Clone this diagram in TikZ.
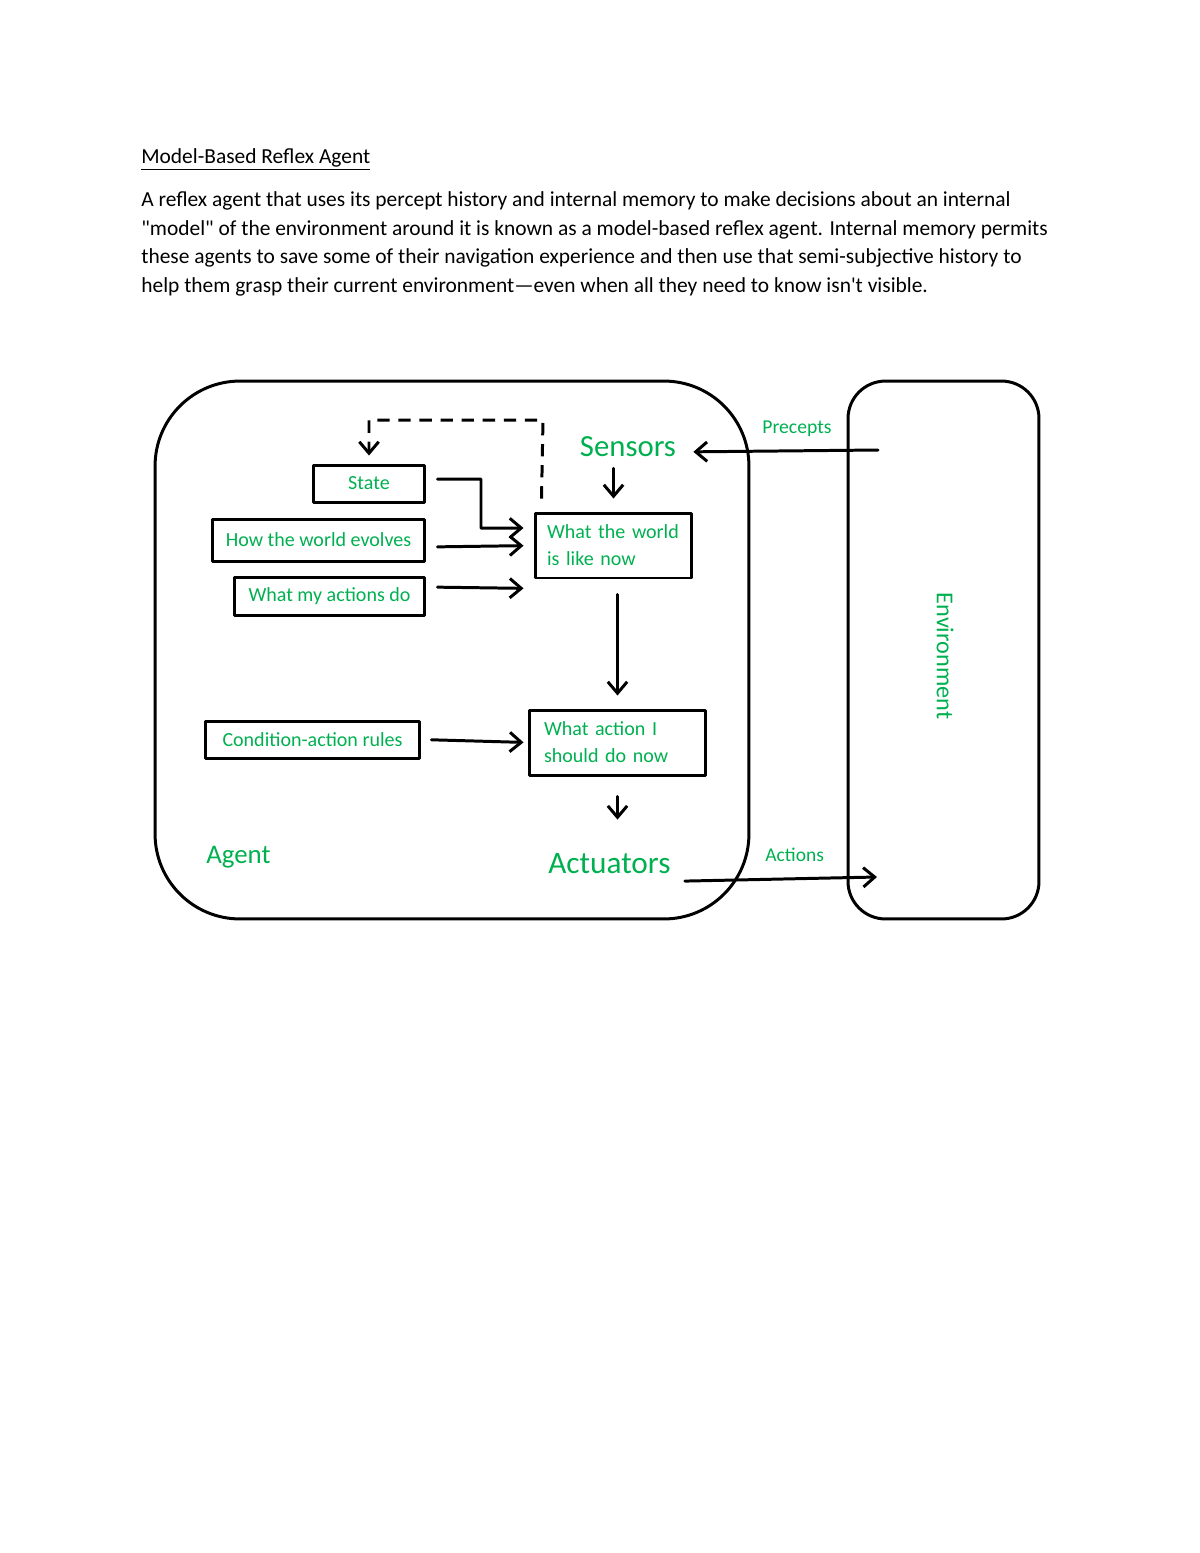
\documentclass[tikz,border=0pt]{standalone}
\usepackage{fontspec}
\setmainfont{Carlito}[Ligatures=TeXOff]
\usetikzlibrary{arrows.meta}
\definecolor{txtgreen}{RGB}{0,176,80}
\tikzset{
  frame/.style={draw,line width=1.7pt},
  box/.style={draw,line width=1.7pt,inner sep=0pt,text=txtgreen,font=\fontsize{11.4}{15.3}\selectfont},
  lbl/.style={text=txtgreen,inner sep=0pt},
  para/.style={anchor=base west,inner sep=0pt,font=\fontsize{12.2}{15}\selectfont},
  arr/.style={->,line width=1.7pt},
}
\begin{document}
\begin{tikzpicture}[x=0.02cm,y=-0.02cm,>={Straight Barb[length=6.5pt,width=11pt]},line join=round,line cap=round]
\useasboundingbox (0,0) rectangle (1200,1553);
\path
(543,420) coordinate (fb)
(481,479) coordinate (bend)
(878,450) coordinate (pin)
(877,877) coordinate (aout);
\node[para] (title) at (141,163) {\underline{Model-Based Reflex Agent}};
\node[para] (line1) at (141,206) {A reflex agent that uses its percept history and internal memory to make decisions about an internal};
\node[para] (line2) at (141,235) {"model" of the environment around it is known as a model-based reflex agent. Internal memory permits};
\node[para] (line3) at (141,263) {these agents to save some of their navigation experience and then use that semi-subjective history to};
\node[para] (line4) at (141,292) {help them grasp their current environment—even when all they need to know isn't visible.};
\node[frame,minimum width=11.88cm,minimum height=10.76cm,rounded corners=1.7cm] (agent) at (452,650) {};
\node[frame,minimum width=3.82cm,minimum height=10.76cm,rounded corners=0.75cm] (env) at (943.5,650) {};
\node[box,minimum width=2.24cm,minimum height=0.74cm] (state) at (369,483.5) {State};
\node[box,minimum width=4.26cm,minimum height=0.84cm] (evolves) at (318.5,540) {How the world evolves};
\node[box,minimum width=3.82cm,minimum height=0.76cm] (actdo) at (329.5,596) {What my actions do};
\node[box,minimum width=4.3cm,minimum height=0.74cm] (rules) at (312.5,739.5) {Condition-action rules};
\node[box,minimum width=3.14cm,minimum height=1.3cm,inner xsep=0.24cm,text width=2.66cm,align=left] (worldnow) at (613.5,545.5) {What~the~world\\is like now};
\node[box,minimum width=3.54cm,minimum height=1.3cm,inner xsep=0.3cm,text width=2.94cm,align=left] (actnow) at (617.5,742.5) {What action I\\should do now};
\node[lbl,font=\fontsize{17.5}{20}\selectfont] (sensors) at (628,447) {Sensors};
\node[lbl,anchor=base west,font=\fontsize{17.8}{20}\selectfont] (actuators) at (548,873) {Actuators};
\node[lbl,anchor=base west,font=\fontsize{15.3}{18}\selectfont] (agentlbl) at (206,863) {Agent};
\node[lbl,anchor=base west,font=\fontsize{11.2}{13}\selectfont] (precepts) at (762,433) {Precepts};
\node[lbl,anchor=base west,font=\fontsize{11.1}{13}\selectfont] (actions) at (765,861) {Actions};
\node[lbl,rotate=-90,font=\fontsize{13.8}{16}\selectfont] (envlbl) at (945,656) {Environment};
\draw[arr,shorten >=0.34cm] (pin) -- ([yshift=-0.1cm]sensors.east);
\draw[arr,shorten <=0.22cm,shorten >=0.26cm] (sensors.south -| worldnow.north) -- (worldnow.north);
\draw[arr,dashed,dash pattern=on 7pt off 5pt,line cap=butt,shorten >=0.16cm] ([xshift=0.16cm,yshift=0.26cm]worldnow.north west) -- (fb) -| (state.north);
\draw[arr,shorten <=0.22cm,shorten >=0.2cm] ([yshift=0.09cm]state.east) -- (bend) |- ([yshift=0.35cm]worldnow.west);
\draw[arr,shorten <=0.22cm,shorten >=0.2cm] ([yshift=-0.14cm]evolves.east) -- (worldnow.west);
\draw[arr,shorten <=0.22cm,shorten >=0.2cm] ([yshift=0.18cm]actdo.east) -- ([yshift=-0.18cm]worldnow.south west);
\draw[arr,shorten <=0.3cm,shorten >=0.26cm] (worldnow.south -| actnow.north) -- (actnow.north);
\draw[arr,shorten <=0.2cm,shorten >=0.08cm] (rules.east) -- (actnow.west);
\draw[arr,shorten <=0.4cm,shorten >=0.66cm] (actnow.south) -- (actnow.south |- actuators.north);
\draw[arr] ([xshift=0.28cm,yshift=-0.36cm]actuators.east) -- (aout);
\end{tikzpicture}
\end{document}
